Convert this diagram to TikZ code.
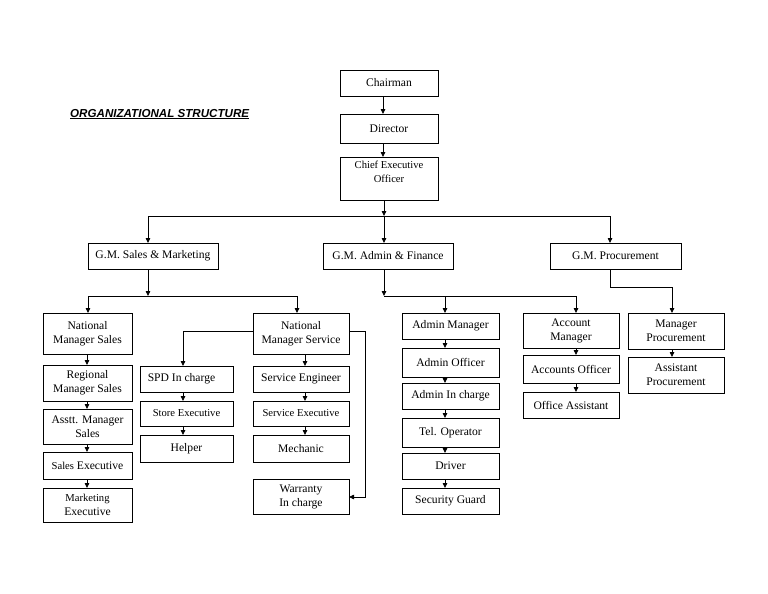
\documentclass[tikz,border=0pt]{standalone}
\usepackage{fontspec}
\setmainfont{Liberation Serif}
\newfontfamily\titlefont{Liberation Sans}
\usetikzlibrary{arrows.meta}
\newcommand{\sm}{\fontsize{10.6}{12}\selectfont}
\begin{document}
\begin{tikzpicture}[x=1pt,y=-1pt,
  box/.style={draw=black, line width=0.8pt, inner sep=0pt, outer sep=0pt, align=center,
    font=\fontsize{11.6}{14}\selectfont},
  arr/.style={line width=0.8pt, -{Triangle[length=5pt,width=4.5pt]}},
  ln/.style={line width=0.8pt}]
\useasboundingbox (0,0) rectangle (768,594);
\fill[white] (0,0) rectangle (768,594);

% title
\node[anchor=base west, inner sep=0pt] (title) at (70,117)
  {\titlefont\fontsize{11.6}{14}\selectfont\bfseries\itshape\underline{ORGANIZATIONAL STRUCTURE}};

% top
\node[box, minimum width=98, minimum height=26] (chair) at (389,83) {Chairman};
\node[box, minimum width=98, minimum height=29] (dir) at (389,128.5) {Director};
\node[box, minimum width=98, minimum height=43] (ceo) at (389,178.5)
  {\sm Chief Executive\\\sm Officer\\\sm\mbox{}};

% GMs
\node[box, minimum width=130, minimum height=26] (gms) at (153,256) {G.M. Sales \& Marketing};
\node[box, minimum width=130, minimum height=26] (gma) at (388,256) {G.M. Admin \& Finance};
\node[box, minimum width=131, minimum height=26] (gmp) at (615.5,256) {G.M. Procurement};

% sales column
\node[box, minimum width=89, minimum height=41] (nms) at (87.5,333.5) {National\\Manager Sales};
\node[box, minimum width=89, minimum height=36] (rms) at (87.5,383) {Regional\\Manager Sales};
\node[box, minimum width=89, minimum height=35] (ams) at (87.5,426.5) {Asstt. Manager\\Sales};
\node[box, minimum width=89, minimum height=27] (se) at (87.5,465.5) {{\sm Sales} Executive};
\node[box, minimum width=89, minimum height=34] (me) at (87.5,505) {\sm Marketing\\Executive};

% SPD column
\node[box, minimum width=93, minimum height=26] (spd) at (186.5,379) {SPD In charge\hspace{10pt}};
\node[box, minimum width=93, minimum height=25] (stx) at (186.5,413.5) {\sm Store Executive};
\node[box, minimum width=93, minimum height=27] (hlp) at (186.5,448.5) {Helper};

% service column
\node[box, minimum width=96, minimum height=41] (nmsv) at (301,333.5) {National\\Manager Service};
\node[box, minimum width=96, minimum height=26] (seng) at (301,379) {Service Engineer};
\node[box, minimum width=96, minimum height=25] (svx) at (301,413.5) {\sm Service Executive};
\node[box, minimum width=96, minimum height=27] (mech) at (301,448.5) {Mechanic};
\node[box, minimum width=96, minimum height=35] (warr) at (301,496.5) {Warranty\\In charge};

% admin column
\node[box, minimum width=97, minimum height=26] (am) at (450.5,326) {Admin Manager};
\node[box, minimum width=97, minimum height=29] (ao) at (450.5,362.5) {Admin Officer};
\node[box, minimum width=97, minimum height=26] (aic) at (450.5,396) {Admin In charge};
\node[box, minimum width=97, minimum height=29] (tel) at (450.5,432.5) {Tel. Operator};
\node[box, minimum width=97, minimum height=26] (drv) at (450.5,466) {Driver};
\node[box, minimum width=97, minimum height=26] (sec) at (450.5,501) {Security Guard};

% accounts column
\node[box, minimum width=96, minimum height=35] (acm) at (571,330.5) {Account\\Manager};
\node[box, minimum width=96, minimum height=28] (aco) at (571,369) {Accounts Officer};
\node[box, minimum width=96, minimum height=26] (ofa) at (571,405) {Office Assistant};

% procurement column
\node[box, minimum width=96, minimum height=36] (mp) at (676,331) {Manager\\Procurement};
\node[box, minimum width=96, minimum height=36] (ap) at (676,375) {Assistant\\Procurement};

% junction coordinates
\coordinate (j1) at (384,216);
\coordinate (j1L) at (148,216);
\coordinate (j1R) at (610,216);
\coordinate (j2) at (148,296);
\coordinate (j2L) at (88,296);
\coordinate (j2R) at (297,296);
\coordinate (j3) at (384,296);
\coordinate (j3M) at (445,296);
\coordinate (j3R) at (576,296);
\coordinate (jp1) at (610,287);
\coordinate (jp2) at (672,287);
\coordinate (ks1) at (183,331);
\coordinate (kw1) at (365,331);
\coordinate (kw2) at (365,497);

% top chain
\draw[arr] (chair.south -| 383,0) -- (dir.north -| 383,0);
\draw[arr] (dir.south -| 383,0) -- (ceo.north -| 383,0);
\draw[arr] (ceo.south -| j1) -- (j1);
\draw[ln] (j1L) -- (j1R);
\draw[arr] (j1L) -- (j1L |- gms.north);
\draw[arr] (j1) -- (j1 |- gma.north);
\draw[arr] (j1R) -- (j1R |- gmp.north);

% GM sales
\draw[arr] (gms.south -| j2) -- (j2);
\draw[ln] (j2L) -- (j2R);
\draw[arr] (j2L) -- (j2L |- nms.north);
\draw[arr] (j2R) -- (j2R |- nmsv.north);

% GM admin
\draw[arr] (gma.south -| j3) -- (j3);
\draw[ln] (j3) -- (j3R);
\draw[arr] (j3M) -- (j3M |- am.north);
\draw[arr] (j3R) -- (j3R |- acm.north);

% GM procurement
\draw[arr] (gmp.south -| jp1) -- (jp1) -- (jp2) -- (jp2 |- mp.north);

% service branches
\draw[arr] (nmsv.west |- ks1) -- (ks1) -- (ks1 |- spd.north);
\draw[arr] (nmsv.east |- kw1) -- (kw1) -- (kw2) -- (warr.east |- kw2);

% chains
\foreach \a/\b in {nms/rms, rms/ams, ams/se, se/me}
  \draw[arr] (\a.south -| 87,0) -- (\b.north -| 87,0);
\foreach \a/\b in {spd/stx, stx/hlp}
  \draw[arr] (\a.south -| 183,0) -- (\b.north -| 183,0);
\foreach \a/\b in {nmsv/seng, seng/svx, svx/mech}
  \draw[arr] (\a.south -| 305,0) -- (\b.north -| 305,0);
\foreach \a/\b in {am/ao, ao/aic, aic/tel, tel/drv, drv/sec}
  \draw[arr] (\a.south -| 445,0) -- (\b.north -| 445,0);
\foreach \a/\b in {acm/aco, aco/ofa}
  \draw[arr] (\a.south -| 576,0) -- (\b.north -| 576,0);
\draw[arr] (mp.south -| 672,0) -- (ap.north -| 672,0);
\end{tikzpicture}
\end{document}
